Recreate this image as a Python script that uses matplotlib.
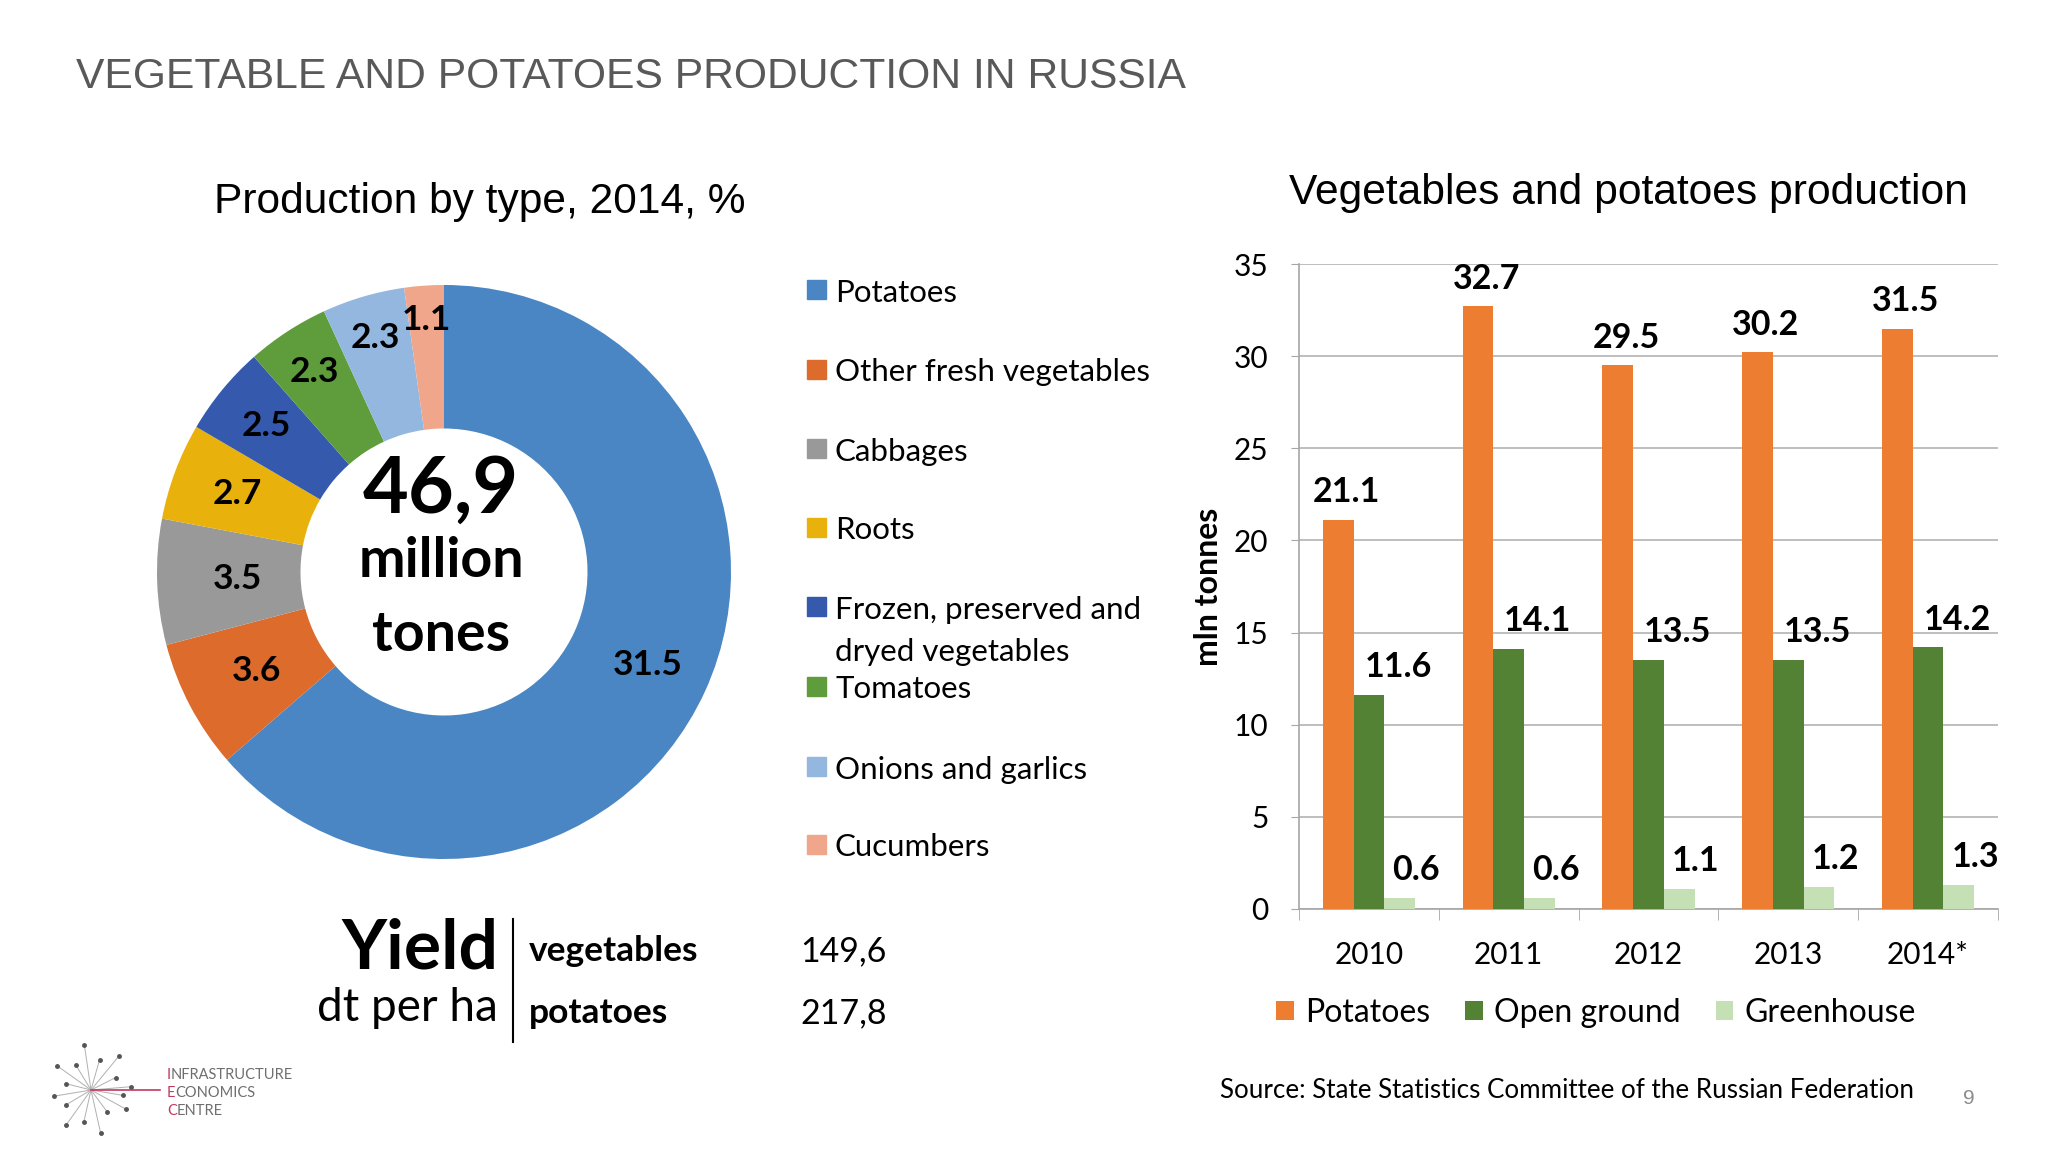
# Slide 9 recreation: vegetable & potato production in Russia
# left  : donut of 2014 production by type + yield box
# right : grouped bars 2010-2014 (potatoes / open ground / greenhouse)

import numpy as np
import matplotlib.pyplot as plt
from matplotlib.patches import Rectangle

# --- data ---
pie_labels = ["Potatoes", "Other fresh vegetables", "Cabbages", "Roots",
              "Frozen, preserved and\ndryed vegetables", "Tomatoes",
              "Onions and garlics", "Cucumbers"]
pie_values = [31.5, 3.6, 3.5, 2.7, 2.5, 2.3, 2.3, 1.1]
pie_colors = ["#4A86C4", "#DC6B2C", "#999999", "#E9B10C",
              "#3459AD", "#5E9C3C", "#94B7E0", "#F0A68B"]

years = ["2010", "2011", "2012", "2013", "2014*"]
potatoes = [21.1, 32.7, 29.5, 30.2, 31.5]
open_ground = [11.6, 14.1, 13.5, 13.5, 14.2]
greenhouse = [0.6, 0.6, 1.1, 1.2, 1.3]
bar_series = ["Potatoes", "Open ground", "Greenhouse"]
bar_colors = ["#ED7D31", "#548235", "#C5E0B4"]

yield_items = ["vegetables", "potatoes"]
yield_values = ["149,6", "217,8"]

W, H = 2048, 1152
BODY = "Lato"          # closest installed thing to Calibri
HEAD = "Liberation Sans"


def fx(x):
    return x / W


def fy(y):
    return 1 - y / H


fig = plt.figure(figsize=(W / 100, H / 100), dpi=100)
fig.patch.set_facecolor("white")

# titles
fig.text(fx(76), fy(77), "VEGETABLE AND POTATOES PRODUCTION IN RUSSIA",
         family=HEAD, fontsize=30.7, color="#595959", va="center", ha="left")
fig.text(fx(480), fy(202), "Production by type, 2014, %",
         family=HEAD, fontsize=30.6, color="black", va="center", ha="center")
fig.text(fx(1628), fy(193), "Vegetables and potatoes production",
         family=HEAD, fontsize=30.7, color="black", va="center", ha="center")

# --- donut ---
cx, cy, R = 444, 572, 287
pax = fig.add_axes([fx(cx - R), fy(cy + R), 2 * R / W, 2 * R / H])
wedges, _ = pax.pie(pie_values, colors=pie_colors, startangle=90,
                    counterclock=False, radius=1,
                    wedgeprops=dict(width=0.5, linewidth=0))
pax.set_xlim(-1, 1)
pax.set_ylim(-1, 1)
pax.axis("off")

# small slices sit a bit further out, like the Excel labels do
label_r = [0.78, 0.74, 0.72, 0.77, 0.80, 0.83, 0.85, 0.88]
for w, v, r in zip(wedges, pie_values, label_r):
    ang = np.deg2rad((w.theta1 + w.theta2) / 2)
    pax.text(r * np.cos(ang), r * np.sin(ang), f"{v:.1f}", family=BODY,
             fontsize=25.5, fontweight="bold", ha="center", va="center")

fig.text(fx(441), fy(491), "46,9", family=BODY, fontsize=57,
         fontweight="bold", ha="center", va="center")
fig.text(fx(441), fy(561), "million", family=BODY, fontsize=40,
         fontweight="bold", ha="center", va="center")
fig.text(fx(441), fy(635), "tones", family=BODY, fontsize=40,
         fontweight="bold", ha="center", va="center")

# donut legend, drawn by hand (uneven two-line entry)
row_y = [290, 370, 449, 528, 607, 687, 767, 845]
for lab, col, y in zip(pie_labels, pie_colors, row_y):
    fig.patches.append(Rectangle((fx(807), fy(y + 9)), 19 / W, 19 / H,
                                 transform=fig.transFigure, color=col))
    lines = lab.split("\n")
    for k, line in enumerate(lines):
        fig.text(fx(835), fy(y + 42 * k), line, family=BODY, fontsize=22.5,
                 ha="left", va="center_baseline")

# yield box
fig.text(fx(498), fy(949), "Yield", family=BODY, fontsize=50,
         fontweight="bold", ha="right", va="center")
fig.text(fx(498), fy(1008), "dt per ha", family=BODY, fontsize=33,
         ha="right", va="center")
fig.add_artist(plt.Line2D([fx(513), fx(513)], [fy(919), fy(1042)],
                          color="black", lw=1.5))
for item, val, y in zip(yield_items, yield_values, [951, 1013]):
    fig.text(fx(529), fy(y), item, family=BODY, fontsize=25.5,
             fontweight="bold", ha="left", va="center")
    fig.text(fx(800), fy(y), val, family=BODY, fontsize=24.5,
             ha="left", va="center")

# --- grouped bars ---
bax = fig.add_axes([fx(1299), fy(909), 699 / W, 645 / H])
x = np.arange(len(years))
bw = 0.22
series = [potatoes, open_ground, greenhouse]
offsets = [-bw, 0, bw]
label_dx = [6, 21, 12]      # Excel nudges the labels right, in points
for vals, off, col, name, dx in zip(series, offsets, bar_colors,
                                    bar_series, label_dx):
    bars = bax.bar(x + off, vals, width=bw, color=col, label=name, zorder=3)
    for b, v in zip(bars, vals):
        bax.annotate(f"{v:.1f}", (b.get_x() + b.get_width() / 2, v),
                     xytext=(dx, 20), textcoords="offset points",
                     ha="center", va="center", family=BODY, fontsize=24.5,
                     fontweight="bold", zorder=4)

bax.set_ylim(0, 35)
bax.set_xlim(-0.5, len(years) - 0.5)
bax.set_yticks(range(0, 36, 5))
bax.set_xticks(x)
bax.set_xticklabels(years)
bax.set_xticks(np.arange(-0.5, len(years)), minor=True)
bax.tick_params(axis="x", which="major", length=0, pad=23)
bax.tick_params(axis="x", which="minor", length=8, color="#A6A6A6")
bax.tick_params(axis="y", length=6, color="#A6A6A6", pad=16)
for lab in bax.get_xticklabels() + bax.get_yticklabels():
    lab.set_family(BODY)
    lab.set_fontsize(21.5)
bax.grid(axis="y", color="#B3B3B3", lw=1.2, zorder=0)
for s in ["top", "right"]:
    bax.spines[s].set_visible(False)
for s in ["left", "bottom"]:
    bax.spines[s].set_color("#A6A6A6")
    bax.spines[s].set_linewidth(1.2)
bax.set_ylabel("mln tonnes", family=BODY, fontsize=23, fontweight="bold",
               va="center")
bax.yaxis.set_label_coords(-0.129, 0.5)

fig.legend(*bax.get_legend_handles_labels(), loc="center",
           bbox_to_anchor=(fx(1596), fy(1013)), ncol=3, frameon=False,
           prop=dict(family=BODY, size=23), handlelength=0.55,
           handleheight=0.55, handletextpad=0.35, columnspacing=1.1)

# footer
fig.text(fx(1220), fy(1091), "Source: State Statistics Committee of the Russian Federation",
         family=BODY, fontsize=18.7, ha="left", va="center")
fig.text(fx(1969), fy(1098), "9", family=HEAD, fontsize=15, color="#8C8C8C",
         ha="center", va="center")

# logo: a little starburst + three-line name with red initials
lcx, lcy = 91, 1090
ray_ang = [5, 28, 52, 75, 98, 120, 143, 165, 190, 212, 236, 258, 282, 305, 330, 350]
ray_len = [40, 28, 45, 33, 48, 30, 42, 26, 38, 30, 44, 34, 46, 28, 40, 32]
for a, L in zip(ray_ang, ray_len):
    ex = lcx + L * np.cos(np.deg2rad(a))
    ey = lcy - L * np.sin(np.deg2rad(a)) * 0.95
    fig.add_artist(plt.Line2D([fx(lcx), fx(ex)], [fy(lcy), fy(ey)],
                              color="#B0B0B0", lw=0.7))
    fig.add_artist(plt.Line2D([fx(ex)], [fy(ey)], marker="o", ms=2.5,
                              color="#555555", lw=0))
fig.add_artist(plt.Line2D([fx(lcx), fx(160)], [fy(lcy), fy(lcy)],
                          color="#C0395A", lw=1.2))
for word, y in zip(["INFRASTRUCTURE", "ECONOMICS", "CENTRE"], [1075, 1093, 1111]):
    first = fig.text(fx(167), fy(y), word[0], family=BODY, fontsize=10.5,
                     color="#C0395A", ha="left", va="center")
    pax.annotate(word[1:], xy=(1, 0.5), xycoords=first, ha="left",
                 va="center", family=BODY, fontsize=10.5, color="#6E6E6E",
                 annotation_clip=False)

fig.savefig("out.png", dpi=100)
